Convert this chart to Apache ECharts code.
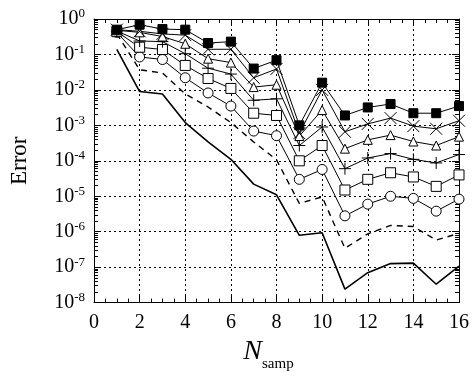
<!DOCTYPE html>
<html>
<head>
<meta charset="utf-8">
<script src="https://cdn.jsdelivr.net/npm/echarts@6/dist/echarts.min.js"></script>
<style>
  html, body { margin: 0; padding: 0; background: #fff; }
  #chart { width: 474px; height: 377px; }
</style>
</head>
<body>
<div id="chart"></div>
<script>
// N_samp values
const nSamp = [1, 2, 3, 4, 5, 6, 7, 8, 9, 10, 11, 12, 13, 14, 15, 16]

// error curves, top to bottom
const filledSquare = [0.5, 0.69, 0.52, 0.5, 0.21, 0.23, 0.04, 0.069, 1e-3, 0.016, 1.9e-3, 3.2e-3, 4e-3, 2.2e-3, 2.2e-3, 3.5e-3]
const cross = [0.5, 0.45, 0.38, 0.35, 0.14, 0.14, 0.022, 0.039, 6e-4, 0.01, 6.6e-4, 1.1e-3, 1.6e-3, 9.5e-4, 8e-4, 1.35e-3]
const triangle = [0.48, 0.42, 0.32, 0.2, 0.076, 0.059, 0.012, 0.014, 5e-4, 2.7e-3, 2.2e-4, 3.9e-4, 5.3e-4, 3.5e-4, 2.7e-4, 4.8e-4]
const plus = [0.46, 0.24, 0.23, 0.105, 0.041, 0.028, 5.1e-3, 5.6e-3, 2.7e-4, 9e-4, 6e-5, 1.2e-4, 1.6e-4, 1.1e-4, 8.7e-5, 1.5e-4]
const square = [0.44, 0.16, 0.138, 0.049, 0.021, 0.011, 2.2e-3, 1.9e-3, 1e-4, 2.7e-4, 1.5e-5, 3e-5, 4.6e-5, 3.5e-5, 1.9e-5, 4e-5]
const circle = [0.42, 0.085, 0.072, 0.022, 8.2e-3, 3.5e-3, 6.9e-4, 5.1e-4, 3e-5, 5.7e-5, 2.8e-6, 6e-6, 1e-5, 8.7e-6, 3.8e-6, 8.3e-6]
const dashed = [0.38, 0.037, 0.03, 7.7e-3, 3.3e-3, 1.2e-3, 3.4e-4, 1.07e-4, 6.3e-6, 9.6e-6, 3.4e-7, 8.7e-7, 1.5e-6, 1.4e-6, 5.8e-7, 9e-7]
const solid = [0.14, 9e-3, 7.7e-3, 1.2e-3, 3.4e-4, 1.1e-4, 2.2e-5, 1.1e-5, 7.9e-7, 9.3e-7, 2.4e-8, 7e-8, 1.26e-7, 1.3e-7, 3.3e-8, 1.07e-7]

const decades = [-8, -7, -6, -5, -4, -3, -2, -1, 0]

const serif = '"Liberation Serif", "DejaVu Serif", serif'
const minorValues = []
decades.slice(0, -1).forEach((e) => {
  for (let k = 2; k <= 9; k++) minorValues.push(k * Math.pow(10, e))
})

const pair = (ys) => nSamp.map((x, i) => [x, ys[i]])

function markerSeries(name, data, symbol, size, fill, width) {
  return {
    name,
    type: 'line',
    data: pair(data),
    symbol,
    symbolSize: size,
    showAllSymbol: true,
    lineStyle: { color: '#000', width: width || 1 },
    itemStyle: { color: fill, borderColor: '#000', borderWidth: 1 },
    z: 3,
  }
}

const chart = echarts.init(document.getElementById('chart'), null, { renderer: 'canvas' })

const tickLine = { lineStyle: { color: '#000', width: 1 } }
const dotted = { show: true, lineStyle: { color: '#000', type: [2, 3], width: 1 } }

const option = {
  animation: false,
  backgroundColor: '#fff',
  grid: { left: 89, right: 15, top: 19, bottom: 64 },
  xAxis: [
    {
      type: 'value',
      min: 0,
      max: 16,
      interval: 2,
      position: 'bottom',
      axisLine: { show: true, ...tickLine },
      axisTick: { show: true, inside: true, length: 7, ...tickLine },
      minorTick: { show: true, splitNumber: 4, length: 4, ...tickLine },
      splitLine: dotted,
      axisLabel: { color: '#000', fontFamily: serif, fontSize: 20, margin: 10 },
      name: '{n|N}{s|samp}',
      nameLocation: 'middle',
      nameGap: 22,
      nameTextStyle: {
        padding: [0, 16, 0, 0],
        rich: {
          n: { fontFamily: serif, fontStyle: 'italic', fontSize: 28, color: '#000' },
          s: { fontFamily: serif, fontSize: 15, color: '#000', padding: [26, 0, 0, 0] },
        },
      },
    },
    {
      type: 'value',
      min: 0,
      max: 16,
      interval: 2,
      position: 'top',
      axisLine: { show: true, ...tickLine },
      axisTick: { show: true, inside: true, length: 7, ...tickLine },
      minorTick: { show: true, splitNumber: 4, length: 4, ...tickLine },
      splitLine: { show: false },
      axisLabel: { show: false },
    },
  ],
  yAxis: [
    {
      type: 'log',
      logBase: 10,
      min: 1e-8,
      max: 1,
      interval: 1,
      position: 'left',
      axisLine: { show: true, ...tickLine },
      axisTick: { show: true, inside: true, length: 7, ...tickLine },
      splitLine: dotted,
      axisLabel: {
        margin: 9,
        formatter: (v) => '{a|10}{b|' + Math.round(Math.log10(v)) + '}',
        rich: {
          a: { fontFamily: serif, fontSize: 20, color: '#000' },
          b: { fontFamily: serif, fontSize: 13, color: '#000', verticalAlign: 'top', padding: [0, 0, 10, 0] },
        },
      },
      name: 'Error',
      nameLocation: 'middle',
      nameGap: 63,
      nameTextStyle: { fontFamily: serif, fontSize: 23, color: '#000' },
    },
    {
      type: 'log',
      logBase: 10,
      min: 1e-8,
      max: 1,
      position: 'left',
      axisLine: { show: false },
      axisTick: { show: true, inside: true, length: 4, customValues: minorValues, ...tickLine },
      splitLine: { show: false },
      axisLabel: { show: false },
    },
    {
      type: 'log',
      logBase: 10,
      min: 1e-8,
      max: 1,
      interval: 1,
      position: 'right',
      axisLine: { show: true, ...tickLine },
      axisTick: { show: true, inside: true, length: 7, ...tickLine },
      splitLine: { show: false },
      axisLabel: { show: false },
    },
    {
      type: 'log',
      logBase: 10,
      min: 1e-8,
      max: 1,
      position: 'right',
      axisLine: { show: false },
      axisTick: { show: true, inside: true, length: 4, customValues: minorValues, ...tickLine },
      splitLine: { show: false },
      axisLabel: { show: false },
    },
  ],
  series: [
    {
      name: 'solid',
      type: 'line',
      data: pair(solid),
      symbol: 'none',
      lineStyle: { color: '#000', width: 1.6 },
    },
    {
      name: 'dashed',
      type: 'line',
      data: pair(dashed),
      symbol: 'none',
      lineStyle: { color: '#000', width: 1.4, type: [6, 5] },
    },
    markerSeries('circle', circle, 'circle', 10, '#fff'),
    markerSeries('square', square, 'rect', 10, '#fff'),
    markerSeries('plus', plus, 'path://M5,0L5,10M0,5L10,5', 12, 'none'),
    markerSeries('triangle', triangle, 'triangle', 9, '#fff'),
    markerSeries('cross', cross, 'path://M0,0L10,10M10,0L0,10', 12, 'none'),
    markerSeries('filledSquare', filledSquare, 'rect', 9, '#000'),
  ],
}

chart.setOption(option)
</script>
</body>
</html>
